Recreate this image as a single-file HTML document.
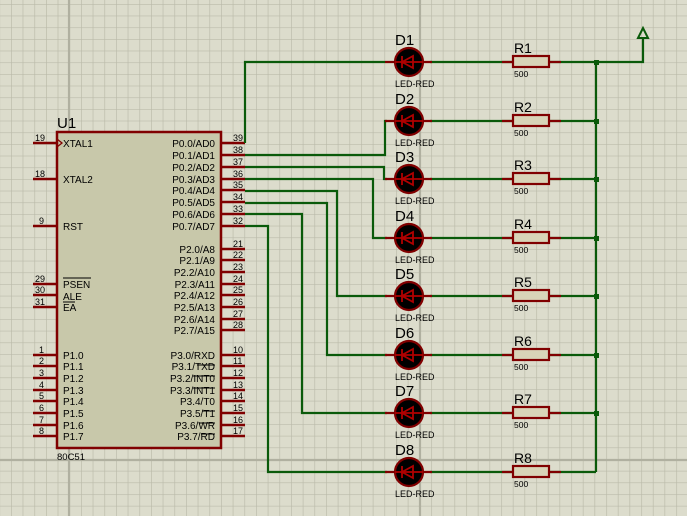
<!DOCTYPE html>
<html><head><meta charset="utf-8"><style>
html,body{margin:0;padding:0;background:#dcdccc;}
svg{display:block;font-family:"Liberation Sans",Arial,sans-serif;}
</style></head><body>
<svg width="687" height="516" viewBox="0 0 687 516" xmlns="http://www.w3.org/2000/svg">
<defs>
<pattern id="g" x="11" y="4" width="11.67" height="11.67" patternUnits="userSpaceOnUse">
<path d="M0 0V11.67M0 0H11.67" stroke="#babaa9" stroke-width="1.3" fill="none"/>
</pattern>
</defs>
<rect width="687" height="516" fill="#dcdccc"/>
<rect width="687" height="516" fill="url(#g)"/>
<g stroke="#b0b0a0" stroke-width="2.2">
<line x1="69" y1="0" x2="69" y2="516"/><line x1="420" y1="0" x2="420" y2="516"/>
<line x1="0" y1="460" x2="687" y2="460"/>
</g>

<!-- chip -->
<rect x="57" y="132" width="164" height="316" fill="#c8c8aa" stroke="#800000" stroke-width="2.5"/>
<text x="57" y="128" font-size="15" fill="#000">U1</text>
<text x="57" y="460" font-size="9.5" fill="#000">80C51</text>
<g stroke="#800000" stroke-width="2.5">
<line x1="33" y1="143" x2="57" y2="143"/><line x1="33" y1="179" x2="57" y2="179"/><line x1="33" y1="226" x2="57" y2="226"/>
<line x1="33" y1="284" x2="57" y2="284"/><line x1="33" y1="295" x2="57" y2="295"/><line x1="33" y1="307" x2="57" y2="307"/>
<line x1="33" y1="355" x2="57" y2="355"/><line x1="33" y1="366" x2="57" y2="366"/><line x1="33" y1="378" x2="57" y2="378"/><line x1="33" y1="390" x2="57" y2="390"/>
<line x1="33" y1="401" x2="57" y2="401"/><line x1="33" y1="413" x2="57" y2="413"/><line x1="33" y1="425" x2="57" y2="425"/><line x1="33" y1="436" x2="57" y2="436"/>
<line x1="221" y1="143" x2="245" y2="143"/><line x1="221" y1="155" x2="245" y2="155"/><line x1="221" y1="167" x2="245" y2="167"/><line x1="221" y1="179" x2="245" y2="179"/>
<line x1="221" y1="190" x2="245" y2="190"/><line x1="221" y1="202" x2="245" y2="202"/><line x1="221" y1="214" x2="245" y2="214"/><line x1="221" y1="226" x2="245" y2="226"/>
<line x1="221" y1="249" x2="245" y2="249"/><line x1="221" y1="260" x2="245" y2="260"/><line x1="221" y1="272" x2="245" y2="272"/><line x1="221" y1="284" x2="245" y2="284"/>
<line x1="221" y1="295" x2="245" y2="295"/><line x1="221" y1="307" x2="245" y2="307"/><line x1="221" y1="319" x2="245" y2="319"/><line x1="221" y1="330" x2="245" y2="330"/>
<line x1="221" y1="355" x2="245" y2="355"/><line x1="221" y1="366" x2="245" y2="366"/><line x1="221" y1="378" x2="245" y2="378"/><line x1="221" y1="390" x2="245" y2="390"/>
<line x1="221" y1="401" x2="245" y2="401"/><line x1="221" y1="413" x2="245" y2="413"/><line x1="221" y1="425" x2="245" y2="425"/><line x1="221" y1="436" x2="245" y2="436"/>
</g>
<path d="M57 139 L62 143 L57 147" fill="none" stroke="#800000" stroke-width="1.3"/>
<g font-size="9" fill="#000">
<text x="35" y="141">19</text><text x="35" y="177">18</text><text x="39" y="224">9</text>
<text x="35" y="282">29</text><text x="35" y="293">30</text><text x="35" y="305">31</text>
<text x="39" y="353">1</text><text x="39" y="364">2</text><text x="39" y="376">3</text><text x="39" y="388">4</text>
<text x="39" y="399">5</text><text x="39" y="411">6</text><text x="39" y="423">7</text><text x="39" y="434">8</text>
<text x="233" y="141">39</text><text x="233" y="153">38</text><text x="233" y="165">37</text><text x="233" y="177">36</text>
<text x="233" y="188">35</text><text x="233" y="200">34</text><text x="233" y="212">33</text><text x="233" y="224">32</text>
<text x="233" y="247">21</text><text x="233" y="258">22</text><text x="233" y="270">23</text><text x="233" y="282">24</text>
<text x="233" y="293">25</text><text x="233" y="305">26</text><text x="233" y="317">27</text><text x="233" y="328">28</text>
<text x="233" y="353">10</text><text x="233" y="364">11</text><text x="233" y="376">12</text><text x="233" y="388">13</text>
<text x="233" y="399">14</text><text x="233" y="411">15</text><text x="233" y="423">16</text><text x="233" y="434">17</text>
</g>
<g font-size="10" fill="#000">
<text x="63" y="147">XTAL1</text><text x="63" y="183">XTAL2</text><text x="63" y="230">RST</text>
<text x="63" y="288">PSEN</text><text x="63" y="300">ALE</text><text x="63" y="311">EA</text>
<text x="63" y="359">P1.0</text><text x="63" y="370">P1.1</text><text x="63" y="382">P1.2</text><text x="63" y="394">P1.3</text>
<text x="63" y="405">P1.4</text><text x="63" y="417">P1.5</text><text x="63" y="429">P1.6</text><text x="63" y="440">P1.7</text>
</g>
<g font-size="10" fill="#000" text-anchor="end">
<text x="215" y="147">P0.0/AD0</text><text x="215" y="159">P0.1/AD1</text><text x="215" y="171">P0.2/AD2</text><text x="215" y="183">P0.3/AD3</text>
<text x="215" y="194">P0.4/AD4</text><text x="215" y="206">P0.5/AD5</text><text x="215" y="218">P0.6/AD6</text><text x="215" y="230">P0.7/AD7</text>
<text x="215" y="253">P2.0/A8</text><text x="215" y="264">P2.1/A9</text><text x="215" y="276">P2.2/A10</text><text x="215" y="288">P2.3/A11</text>
<text x="215" y="299">P2.4/A12</text><text x="215" y="311">P2.5/A13</text><text x="215" y="323">P2.6/A14</text><text x="215" y="334">P2.7/A15</text>
<text x="215" y="359">P3.0/RXD</text><text x="215" y="370">P3.1/TXD</text><text x="215" y="382">P3.2/INT0</text><text x="215" y="394">P3.3/INT1</text>
<text x="215" y="405">P3.4/T0</text><text x="215" y="417">P3.5/T1</text><text x="215" y="429">P3.6/WR</text><text x="215" y="440">P3.7/RD</text>
</g>
<g stroke="#000" stroke-width="1">
<line x1="63" y1="278" x2="91" y2="278"/><line x1="63" y1="302" x2="75" y2="302"/>
<line x1="197" y1="365" x2="215" y2="365"/><line x1="193" y1="376" x2="215" y2="376"/><line x1="193" y1="388" x2="215" y2="388"/>
<line x1="202" y1="411" x2="215" y2="411"/><line x1="199" y1="423" x2="215" y2="423"/><line x1="201" y1="434" x2="215" y2="434"/>
</g>

<!-- wires -->
<g stroke="#0a5a0a" stroke-width="2.2" fill="none">
<polyline points="245,143 245,62 385,62"/>
<polyline points="245,155 385,155 385,121 387,121"/>
<polyline points="245,167 384,167 384,179 387,179"/>
<polyline points="245,179 373,179 373,238 387,238"/>
<polyline points="245,191 337,191 337,296 387,296"/>
<polyline points="245,203 327,203 327,355 387,355"/>
<polyline points="245,214 302,214 302,413 387,413"/>
<polyline points="245,226 268,226 268,472 387,472"/>
<polyline points="596,62 596,472"/>
<polyline points="596,62 643,62 643,38"/>
</g>
<path d="M643 28 L638 38 L648 38 Z" fill="none" stroke="#0a5a0a" stroke-width="2"/>

<!-- LED rows -->
<g id="rows">
</g>
<g>
<script type="text/plain"></script>
</g>
<g stroke-width="2.2">
<!-- row template repeated -->
</g>
<g>
<g transform="translate(0,62)"><line x1="430" y1="0" x2="512" y2="0" stroke="#0a5a0a" stroke-width="2.2"/><line x1="549" y1="0" x2="596" y2="0" stroke="#0a5a0a" stroke-width="2.2"/><line x1="385" y1="0" x2="432" y2="0" stroke="#800000" stroke-width="2.2"/><line x1="502" y1="0" x2="512" y2="0" stroke="#800000" stroke-width="2.2"/><line x1="549" y1="0" x2="561" y2="0" stroke="#800000" stroke-width="2.2"/><circle cx="409" cy="0" r="14" fill="#000" stroke="#800000" stroke-width="2.2"/><path d="M402 0 L413 -6 L413 6 Z M402 -6 V6 M395 0 H423" stroke="#b00000" stroke-width="1.8" fill="none"/><rect x="513" y="-6" width="36" height="11" fill="#d8d4b8" stroke="#800000" stroke-width="2.2"/><rect x="594" y="-2" width="5" height="5" fill="#0a5a0a"/><text x="395" y="-17" font-size="15">D1</text><text x="395" y="25" font-size="9">LED-RED</text><text x="514" y="-9" font-size="14">R1</text><text x="514" y="15" font-size="8.5">500</text></g>
<g transform="translate(0,121)"><line x1="430" y1="0" x2="596" y2="0" stroke="#0a5a0a" stroke-width="2.2"/><line x1="385" y1="0" x2="432" y2="0" stroke="#800000" stroke-width="2.2"/><line x1="502" y1="0" x2="512" y2="0" stroke="#800000" stroke-width="2.2"/><line x1="549" y1="0" x2="561" y2="0" stroke="#800000" stroke-width="2.2"/><circle cx="409" cy="0" r="14" fill="#000" stroke="#800000" stroke-width="2.2"/><path d="M402 0 L413 -6 L413 6 Z M402 -6 V6 M395 0 H423" stroke="#b00000" stroke-width="1.8" fill="none"/><rect x="513" y="-6" width="36" height="11" fill="#d8d4b8" stroke="#800000" stroke-width="2.2"/><rect x="594" y="-2" width="5" height="5" fill="#0a5a0a"/><text x="395" y="-17" font-size="15">D2</text><text x="395" y="25" font-size="9">LED-RED</text><text x="514" y="-9" font-size="14">R2</text><text x="514" y="15" font-size="8.5">500</text></g>
<g transform="translate(0,179)"><line x1="430" y1="0" x2="596" y2="0" stroke="#0a5a0a" stroke-width="2.2"/><line x1="385" y1="0" x2="432" y2="0" stroke="#800000" stroke-width="2.2"/><line x1="502" y1="0" x2="512" y2="0" stroke="#800000" stroke-width="2.2"/><line x1="549" y1="0" x2="561" y2="0" stroke="#800000" stroke-width="2.2"/><circle cx="409" cy="0" r="14" fill="#000" stroke="#800000" stroke-width="2.2"/><path d="M402 0 L413 -6 L413 6 Z M402 -6 V6 M395 0 H423" stroke="#b00000" stroke-width="1.8" fill="none"/><rect x="513" y="-6" width="36" height="11" fill="#d8d4b8" stroke="#800000" stroke-width="2.2"/><rect x="594" y="-2" width="5" height="5" fill="#0a5a0a"/><text x="395" y="-17" font-size="15">D3</text><text x="395" y="25" font-size="9">LED-RED</text><text x="514" y="-9" font-size="14">R3</text><text x="514" y="15" font-size="8.5">500</text></g>
<g transform="translate(0,238)"><line x1="430" y1="0" x2="596" y2="0" stroke="#0a5a0a" stroke-width="2.2"/><line x1="385" y1="0" x2="432" y2="0" stroke="#800000" stroke-width="2.2"/><line x1="502" y1="0" x2="512" y2="0" stroke="#800000" stroke-width="2.2"/><line x1="549" y1="0" x2="561" y2="0" stroke="#800000" stroke-width="2.2"/><circle cx="409" cy="0" r="14" fill="#000" stroke="#800000" stroke-width="2.2"/><path d="M402 0 L413 -6 L413 6 Z M402 -6 V6 M395 0 H423" stroke="#b00000" stroke-width="1.8" fill="none"/><rect x="513" y="-6" width="36" height="11" fill="#d8d4b8" stroke="#800000" stroke-width="2.2"/><rect x="594" y="-2" width="5" height="5" fill="#0a5a0a"/><text x="395" y="-17" font-size="15">D4</text><text x="395" y="25" font-size="9">LED-RED</text><text x="514" y="-9" font-size="14">R4</text><text x="514" y="15" font-size="8.5">500</text></g>
<g transform="translate(0,296)"><line x1="430" y1="0" x2="596" y2="0" stroke="#0a5a0a" stroke-width="2.2"/><line x1="385" y1="0" x2="432" y2="0" stroke="#800000" stroke-width="2.2"/><line x1="502" y1="0" x2="512" y2="0" stroke="#800000" stroke-width="2.2"/><line x1="549" y1="0" x2="561" y2="0" stroke="#800000" stroke-width="2.2"/><circle cx="409" cy="0" r="14" fill="#000" stroke="#800000" stroke-width="2.2"/><path d="M402 0 L413 -6 L413 6 Z M402 -6 V6 M395 0 H423" stroke="#b00000" stroke-width="1.8" fill="none"/><rect x="513" y="-6" width="36" height="11" fill="#d8d4b8" stroke="#800000" stroke-width="2.2"/><rect x="594" y="-2" width="5" height="5" fill="#0a5a0a"/><text x="395" y="-17" font-size="15">D5</text><text x="395" y="25" font-size="9">LED-RED</text><text x="514" y="-9" font-size="14">R5</text><text x="514" y="15" font-size="8.5">500</text></g>
<g transform="translate(0,355)"><line x1="430" y1="0" x2="596" y2="0" stroke="#0a5a0a" stroke-width="2.2"/><line x1="385" y1="0" x2="432" y2="0" stroke="#800000" stroke-width="2.2"/><line x1="502" y1="0" x2="512" y2="0" stroke="#800000" stroke-width="2.2"/><line x1="549" y1="0" x2="561" y2="0" stroke="#800000" stroke-width="2.2"/><circle cx="409" cy="0" r="14" fill="#000" stroke="#800000" stroke-width="2.2"/><path d="M402 0 L413 -6 L413 6 Z M402 -6 V6 M395 0 H423" stroke="#b00000" stroke-width="1.8" fill="none"/><rect x="513" y="-6" width="36" height="11" fill="#d8d4b8" stroke="#800000" stroke-width="2.2"/><rect x="594" y="-2" width="5" height="5" fill="#0a5a0a"/><text x="395" y="-17" font-size="15">D6</text><text x="395" y="25" font-size="9">LED-RED</text><text x="514" y="-9" font-size="14">R6</text><text x="514" y="15" font-size="8.5">500</text></g>
<g transform="translate(0,413)"><line x1="430" y1="0" x2="596" y2="0" stroke="#0a5a0a" stroke-width="2.2"/><line x1="385" y1="0" x2="432" y2="0" stroke="#800000" stroke-width="2.2"/><line x1="502" y1="0" x2="512" y2="0" stroke="#800000" stroke-width="2.2"/><line x1="549" y1="0" x2="561" y2="0" stroke="#800000" stroke-width="2.2"/><circle cx="409" cy="0" r="14" fill="#000" stroke="#800000" stroke-width="2.2"/><path d="M402 0 L413 -6 L413 6 Z M402 -6 V6 M395 0 H423" stroke="#b00000" stroke-width="1.8" fill="none"/><rect x="513" y="-6" width="36" height="11" fill="#d8d4b8" stroke="#800000" stroke-width="2.2"/><rect x="594" y="-2" width="5" height="5" fill="#0a5a0a"/><text x="395" y="-17" font-size="15">D7</text><text x="395" y="25" font-size="9">LED-RED</text><text x="514" y="-9" font-size="14">R7</text><text x="514" y="15" font-size="8.5">500</text></g>
<g transform="translate(0,472)"><line x1="430" y1="0" x2="596" y2="0" stroke="#0a5a0a" stroke-width="2.2"/><line x1="385" y1="0" x2="432" y2="0" stroke="#800000" stroke-width="2.2"/><line x1="502" y1="0" x2="512" y2="0" stroke="#800000" stroke-width="2.2"/><line x1="549" y1="0" x2="561" y2="0" stroke="#800000" stroke-width="2.2"/><circle cx="409" cy="0" r="14" fill="#000" stroke="#800000" stroke-width="2.2"/><path d="M402 0 L413 -6 L413 6 Z M402 -6 V6 M395 0 H423" stroke="#b00000" stroke-width="1.8" fill="none"/><rect x="513" y="-6" width="36" height="11" fill="#d8d4b8" stroke="#800000" stroke-width="2.2"/><text x="395" y="-17" font-size="15">D8</text><text x="395" y="25" font-size="9">LED-RED</text><text x="514" y="-9" font-size="14">R8</text><text x="514" y="15" font-size="8.5">500</text></g>
</g>
</svg>
</body></html>
